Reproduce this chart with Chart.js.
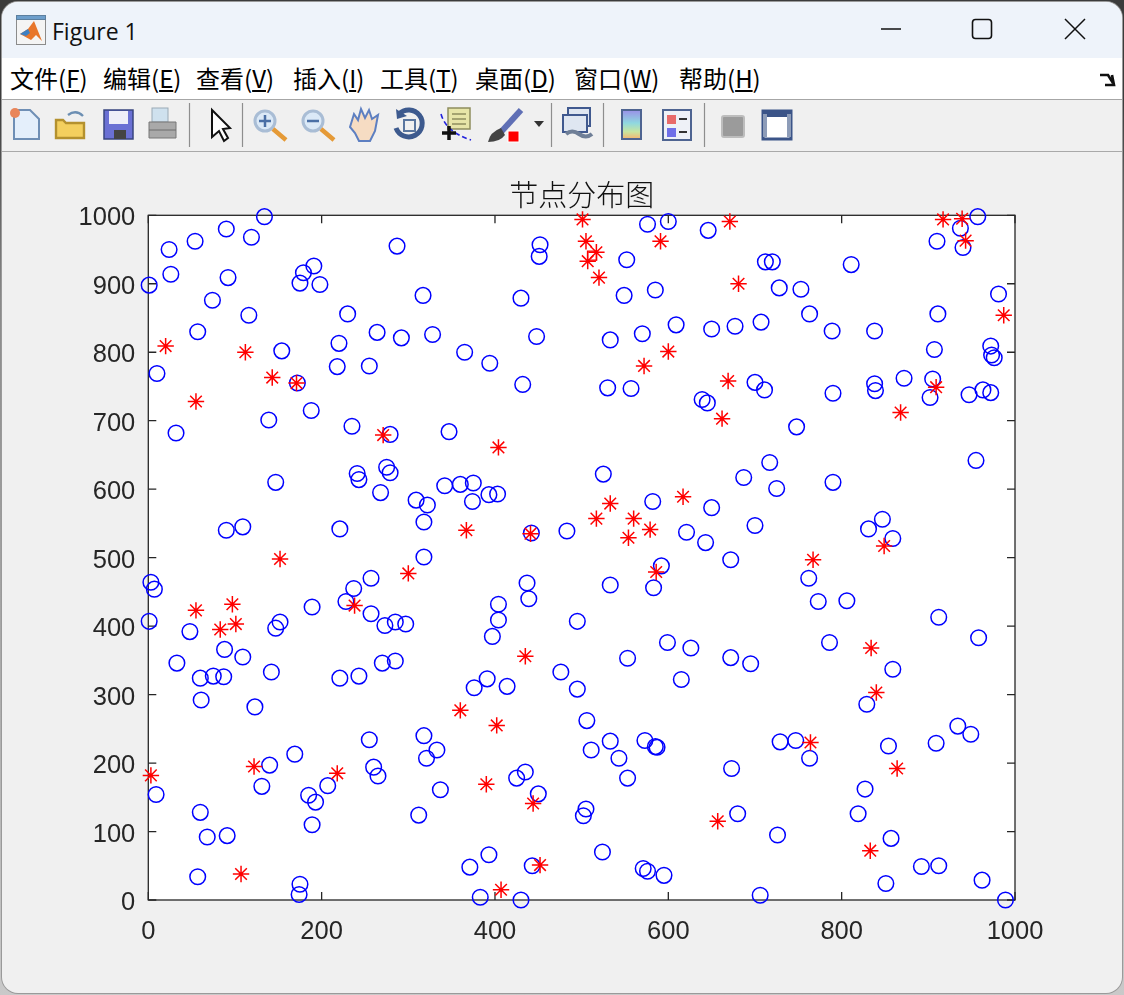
<!DOCTYPE html>
<html>
<head>
<meta charset="utf-8">
<title>Figure 1</title>
<script src="https://cdn.jsdelivr.net/npm/chart.js@4"></script>
<style>
html, body { margin: 0; padding: 0; width: 1124px; height: 995px; overflow: hidden; background: linear-gradient(#3b3b3b 0, #3b3b3b 100px, #8a8a8a 300px, #c9c9c9 100%); }
#win { position: absolute; left: 2px; top: 2px; width: 1120px; height: 991px; border-radius: 16px; overflow: hidden; background: #f0f0f0; box-shadow: 0 0 0 1px #9a9a9a; }
#titlebar { position: absolute; left: -2px; top: -2px; width: 1124px; height: 60px; background: #eef3fa; }
#titlebar span { position: absolute; left: 52px; top: 15px; font: 23px "Open Sans", "Noto Sans", sans-serif; color: #111; line-height: 32px; }
#menu { position: absolute; left: -2px; top: 56px; width: 1124px; height: 41px; background: #fff; border-bottom: 1px solid #a6a6a6; }
#menu span { position: absolute; top: 2px; font: 24px/36px "Noto Sans CJK SC", sans-serif; color: #000; white-space: nowrap; }
#chrome { position: absolute; left: -2px; top: 0; }
#tools { position: absolute; left: -2px; top: 98px; width: 1124px; height: 51px; border-bottom: 1px solid #a9a9a9; }
#chart { position: absolute; left: -2px; top: 150px; }
</style>
</head>
<body>
<div id="win">
  <div id="titlebar"><span>Figure 1</span></div>
  <div id="menu">
    <span style="left:10px">文件(<u>F</u>)</span>
    <span style="left:103px">编辑(<u>E</u>)</span>
    <span style="left:196px">查看(<u>V</u>)</span>
    <span style="left:293px">插入(<u>I</u>)</span>
    <span style="left:380px">工具(<u>T</u>)</span>
    <span style="left:475px">桌面(<u>D</u>)</span>
    <span style="left:574px">窗口(<u>W</u>)</span>
    <span style="left:679px">帮助(<u>H</u>)</span>
  </div>
  <svg id="chrome" width="1124" height="100" style="pointer-events:none">
    <!-- window icon -->
    <rect x="16.5" y="13.5" width="29" height="29" fill="#f4f4f4" stroke="#8b8b8b"/>
    <rect x="16.5" y="13.5" width="29" height="4" fill="#6d9ecb" stroke="#5c7f9f"/>
    <path d="M20 32 L28 27 L34 19 L42 39 L36 33 L31 38 Z" fill="#e8762b"/>
    <path d="M20 32 L28 27 L30 31 L26 34 Z" fill="#3d7fc2"/>
    <!-- caption buttons -->
    <path d="M881 27 H901" stroke="#111" stroke-width="1.6"/>
    <rect x="972.5" y="17.5" width="19" height="19" rx="3" fill="none" stroke="#111" stroke-width="1.6"/>
    <path d="M1065 17 L1085 37 M1085 17 L1065 37" stroke="#111" stroke-width="1.5"/>
    <!-- menu overflow arrow -->
    <path d="M1100 73 L1108 73 L1113 81 M1112 73 L1114 83 L1105 83" fill="none" stroke="#111" stroke-width="2.6"/>
  </svg>
  <div id="tools">
    <svg width="1124" height="52">
      <g stroke="#8e8e8e" stroke-width="1.2">
        <path d="M189.5 3 V47 M242.5 3 V47 M551.5 3 V47 M603.5 3 V47 M704.5 3 V47"/>
      </g>
      <g style="filter:blur(.5px)">
      <!-- new -->
      <path d="M14 10 H30 L39 19 V39 H14 Z" fill="#e4effb" stroke="#6f8fb5" stroke-width="2"/>
      <circle cx="15" cy="13" r="5" fill="#e9865a"/>
      <!-- open -->
      <path d="M56 20 H63 L66 23 H84 V38 H56 Z" fill="#f3cf5e" stroke="#b4912e" stroke-width="2.4"/>
      <path d="M68 15 Q76 9 83 16" fill="none" stroke="#6c8fb3" stroke-width="2.4"/>
      <!-- save -->
      <rect x="104" y="10" width="29" height="29" fill="#6a70d4" stroke="#39457f" stroke-width="1.5"/>
      <rect x="109" y="11" width="19" height="13" fill="#eeeef8"/>
      <rect x="114" y="30" width="12" height="9" fill="#444"/>
      <!-- print -->
      <rect x="152" y="8" width="16" height="14" fill="#cfe1ee" stroke="#9aa9b5"/>
      <path d="M149 22 H176 V38 H149 Z" fill="#a9a9a9" stroke="#767676"/>
      <path d="M149 30 H176" stroke="#6c6c6c"/>
      <!-- pointer -->
      <path d="M212 10 L212 37 L219 31 L224 41 L228 38 L223 29 L230 28 Z" fill="#fff" stroke="#111" stroke-width="2"/>
      <!-- zoom in, zoom out -->
      <g fill="#dbe9f7" stroke="#a9bdd5" stroke-width="3">
        <circle cx="265" cy="21" r="10"/><circle cx="313" cy="21" r="10"/>
      </g>
      <path d="M273 29 L286 40 M321 29 L334 40" stroke="#e59a37" stroke-width="4.5"/>
      <path d="M259 21 H271 M265 15 V27 M307 21 H319" stroke="#4a6fa5" stroke-width="2.5"/>
      <!-- hand -->
      <path d="M350 27 L354 14 L358 20 L361 9 L365 18 L369 10 L372 19 L378 15 L375 31 L370 41 H359 L355 33 Z" fill="#f6dcc3" stroke="#5d7fc1" stroke-width="2"/>
      <!-- rotate -->
      <path d="M399 14 A13.5 13.5 0 1 1 396 28" fill="none" stroke="#3d5a8e" stroke-width="5"/>
      <path d="M396 9 L397 19 L407 16 Z" fill="#3d5a8e"/>
      <rect x="404" y="20" width="11" height="11" fill="none" stroke="#5a769f" stroke-width="2"/>
      <!-- data tip -->
      <rect x="448" y="8" width="22" height="21" fill="#e7e5a8" stroke="#8e8d5e" stroke-width="1.5"/>
      <path d="M452 14 H466 M452 19 H466 M452 24 H466" stroke="#8e8d5e" stroke-width="1.5"/>
      <path d="M441 14 Q446 32 471 40" fill="none" stroke="#2222dd" stroke-width="1.6" stroke-dasharray="5 3"/>
      <path d="M442 33 H456 M449 26 V40" stroke="#111" stroke-width="3.5"/>
      <!-- brush -->
      <path d="M521 10 L501 32" stroke="#5f6fb5" stroke-width="6"/>
      <path d="M501 28 Q490 32 488 42 Q500 42 505 35 Z" fill="#444"/>
      <rect x="508" y="31" width="11" height="11" fill="#f00" stroke="#fff"/>
      <path d="M534 21 H544 L539 27 Z" fill="#333"/>
      <!-- link -->
      <rect x="568" y="8" width="22" height="18" fill="#dfe6f1" stroke="#40598f" stroke-width="2"/>
      <rect x="563" y="15" width="24" height="17" fill="#dfe6f1" stroke="#40598f" stroke-width="2"/>
      <path d="M566 34 Q572 29 579 34 Q586 39 592 34" fill="none" stroke="#6f7f97" stroke-width="4"/>
      <!-- colorbar -->
      <defs><linearGradient id="cb" x1="0" y1="0" x2="0" y2="1">
        <stop offset="0" stop-color="#9a8fe8"/><stop offset=".45" stop-color="#8fd8e0"/><stop offset=".75" stop-color="#c8e6a0"/><stop offset="1" stop-color="#f6b470"/>
      </linearGradient></defs>
      <rect x="622" y="10" width="19" height="29" fill="url(#cb)" stroke="#4e6491" stroke-width="2"/>
      <!-- legend -->
      <rect x="663" y="10" width="28" height="30" fill="#eef1f7" stroke="#4e6491" stroke-width="2"/>
      <rect x="667" y="15" width="9" height="9" fill="#e86a6a"/>
      <rect x="667" y="28" width="9" height="9" fill="#6f6fe8"/>
      <path d="M679 19 H687 M679 32 H687" stroke="#333" stroke-width="2"/>
      <!-- hide plot tools -->
      <rect x="722" y="16" width="22" height="21" rx="2" fill="#9b9b9b" stroke="#bdbdbd" stroke-width="2"/>
      <!-- show plot tools -->
      <rect x="763" y="11" width="28" height="28" fill="#fff" stroke="#3b5488" stroke-width="3"/>
      <rect x="763" y="11" width="28" height="6" fill="#3b5488"/>
      <path d="M765 14 V37 M789 14 V37" stroke="#8d9cb8" stroke-width="4"/>
      </g>
    </svg>
  </div>
  <canvas id="chart" width="1124" height="843"></canvas>
</div>
<script>
const xTicks = [0, 200, 400, 600, 800, 1000];
const yTicks = [0, 100, 200, 300, 400, 500, 600, 700, 800, 900, 1000];
const chartTitle = '节点分布图';

// 普通节点
const nodes = [
  [134,998],[90,980],[119,968],[54,962],[24,950],[287,955],[452,957],[451,940],[191,926],[179,916],
  [175,901],[198,899],[26,914],[92,909],[1,898],[74,876],[317,883],[430,879],[116,854],[230,856],
  [220,813],[264,829],[292,821],[328,826],[448,823],[57,830],[154,802],[365,800],[394,784],[218,779],
  [255,780],[10,769],[432,753],[172,755],[188,715],[139,701],[235,692],[347,684],[32,682],[279,680],
  [275,632],[279,624],[241,623],[243,614],[268,595],[147,610],[342,605],[360,607],[375,609],[393,592],
  [403,593],[309,584],[322,577],[374,582],[318,552],[221,542],[109,545],[90,540],[442,536],[483,539],
  [576,987],[600,991],[646,978],[957,998],[937,981],[910,962],[940,953],[552,935],[712,932],[720,932],
  [811,928],[549,883],[585,891],[728,894],[753,892],[981,885],[763,856],[911,856],[609,840],[570,827],
  [533,818],[650,834],[677,838],[707,844],[789,831],[838,831],[907,804],[972,809],[973,796],[976,792],
  [530,748],[557,747],[639,731],[645,726],[700,756],[711,745],[790,740],[838,754],[839,744],[872,762],
  [905,761],[902,734],[947,738],[963,745],[972,741],[748,691],[717,639],[687,617],[725,601],[790,610],
  [955,642],[525,622],[582,582],[650,573],[700,547],[621,537],[643,522],[831,542],[847,556],[859,528],
  [318,501],[257,470],[237,455],[228,436],[189,428],[257,418],[273,401],[285,406],[297,403],[152,406],
  [147,397],[3,464],[7,454],[1,407],[48,392],[88,366],[33,346],[109,355],[142,333],[60,324],
  [75,327],[87,326],[61,292],[123,282],[221,324],[243,327],[270,346],[285,349],[437,463],[439,440],
  [404,432],[404,409],[397,385],[391,323],[376,310],[414,312],[476,333],[495,407],[495,308],[255,234],
  [318,240],[333,219],[321,207],[140,197],[169,213],[131,166],[207,167],[185,153],[193,143],[189,110],
  [260,194],[265,181],[337,161],[312,124],[9,154],[60,128],[68,92],[91,94],[57,34],[175,23],
  [174,8],[393,66],[371,48],[383,4],[430,0],[443,50],[435,187],[425,178],[450,155],[592,488],
  [583,456],[533,460],[672,497],[762,470],[773,436],[806,437],[912,413],[958,383],[599,376],[626,368],
  [553,353],[672,354],[695,345],[786,376],[859,337],[615,322],[829,286],[506,262],[934,254],[949,242],
  [909,229],[854,225],[729,231],[747,233],[763,207],[533,232],[511,219],[543,207],[573,233],[585,224],
  [587,223],[553,178],[673,192],[505,133],[502,123],[680,126],[819,126],[827,162],[726,95],[857,90],
  [524,70],[571,46],[576,42],[595,36],[706,7],[851,24],[892,49],[912,50],[962,29],[989,0]
];

// 红色星号节点
const stars = [
  [20,809],[112,800],[143,763],[171,755],[55,728],[271,679],[404,661],[367,540],[441,535],[152,498],
  [501,994],[505,962],[517,946],[507,933],[520,909],[591,962],[671,991],[681,900],[917,994],[939,995],
  [943,963],[987,854],[600,801],[572,780],[669,758],[662,703],[868,712],[909,749],[617,589],[533,579],
  [517,557],[560,557],[579,541],[554,529],[767,497],[849,517],[300,477],[238,430],[55,423],[97,432],
  [101,403],[83,395],[435,356],[360,277],[402,255],[122,195],[218,185],[3,182],[390,169],[444,141],
  [107,38],[407,15],[452,51],[586,479],[834,368],[840,303],[764,230],[864,192],[657,115],[833,72]
];

// 方框标记
const squares = [[512,941]];

const toPoints = list => list.map(p => ({ x: p[0], y: p[1] }));

// 白底、外框和朝内的刻度线
const axesBox = {
  id: 'axesBox',
  beforeDatasetsDraw(chart) {
    const { ctx, chartArea: a, scales } = chart;
    ctx.save();
    ctx.fillStyle = '#fff';
    ctx.fillRect(a.left, a.top, a.right - a.left, a.bottom - a.top);
    ctx.strokeStyle = '#262626';
    ctx.lineWidth = 1.3;
    ctx.strokeRect(a.left, a.top, a.right - a.left, a.bottom - a.top);
    ctx.beginPath();
    xTicks.forEach(v => {
      const px = scales.x.getPixelForValue(v);
      ctx.moveTo(px, a.bottom); ctx.lineTo(px, a.bottom - 8);
      ctx.moveTo(px, a.top); ctx.lineTo(px, a.top + 8);
    });
    yTicks.forEach(v => {
      const py = scales.y.getPixelForValue(v);
      ctx.moveTo(a.left, py); ctx.lineTo(a.left + 8, py);
      ctx.moveTo(a.right, py); ctx.lineTo(a.right - 8, py);
    });
    ctx.stroke();
    ctx.restore();
  }
};

new Chart(document.getElementById('chart'), {
  type: 'scatter',
  data: {
    datasets: [{
      label: 'nodes',
      data: toPoints(nodes),
      pointStyle: 'circle',
      pointRadius: 7.8,
      pointBorderWidth: 1.5,
      pointBorderColor: '#0000ff',
      pointBackgroundColor: 'rgba(0,0,0,0)',
      clip: false,
      order: 2
    }, {
      label: 'stars',
      data: toPoints(stars),
      pointStyle: 'star',
      pointRadius: 8.2,
      pointBorderWidth: 1.5,
      pointBorderColor: '#ff0000',
      pointBackgroundColor: '#ff0000',
      clip: false,
      order: 1
    }, {
      label: 'squares',
      data: toPoints(squares),
      pointStyle: 'rect',
      pointRadius: 6.4,
      pointBorderWidth: 1.3,
      pointBorderColor: '#ff0000',
      pointBackgroundColor: 'rgba(0,0,0,0)',
      clip: false,
      order: 1
    }]
  },
  options: {
    responsive: false,
    animation: false,
    layout: { padding: { left: 0, right: 109, top: 0, bottom: 0 } },
    plugins: {
      legend: { display: false },
      tooltip: { enabled: false },
      title: {
        display: true,
        text: chartTitle,
        fullSize: false,
        color: '#111',
        font: { family: '"Noto Sans CJK SC"', size: 29, weight: '300', lineHeight: 1.2 },
        padding: { top: 26, bottom: 2.5 }
      }
    },
    scales: {
      x: {
        type: 'linear',
        min: 0,
        max: 1000,
        afterBuildTicks(s) { s.ticks = xTicks.map(v => ({ value: v })); },
        afterFit(s) { s.height = 95; },
        grid: { display: false, drawTicks: false },
        border: { display: false },
        ticks: { color: '#262626', padding: 17, maxRotation: 0, callback: v => String(v), font: { family: '"Liberation Sans"', size: 25.5 } }
      },
      y: {
        type: 'linear',
        min: 0,
        max: 1000,
        afterBuildTicks(s) { s.ticks = yTicks.map(v => ({ value: v })); },
        afterFit(s) { s.width = 148.3; },
        grid: { display: false, drawTicks: false },
        border: { display: false },
        ticks: { color: '#262626', padding: 13, labelOffset: 3, callback: v => String(v), font: { family: '"Liberation Sans"', size: 25.5 } }
      }
    }
  },
  plugins: [axesBox]
});
</script>
</body>
</html>
